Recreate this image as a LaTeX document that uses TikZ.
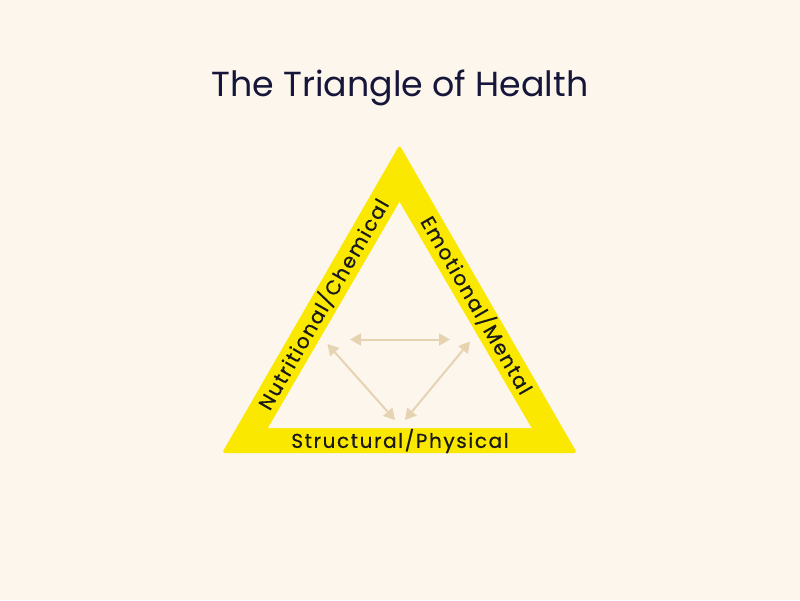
\documentclass[tikz,border=0pt]{standalone}
\usepackage{fontspec}
\setmainfont{Poppins}
\newfontfamily\sidefont[LetterSpace=8,FakeBold=0.6]{Poppins}
\usetikzlibrary{positioning, arrows.meta, calc}
\definecolor{TriBack}{HTML}{FCF6EC}
\definecolor{TriYellow}{HTML}{FAE800}
\definecolor{TriInk}{HTML}{15163A}
\definecolor{TriArrow}{HTML}{E6D3B2}
\tikzset{
    sidelabel/.style={
        font=\sidefont\fontsize{20}{22}\selectfont, text=black!90, inner sep=0pt
    },
    linkarrow/.style={
        {Triangle[length=11pt,width=12pt]}-{Triangle[length=11pt,width=12pt]},
        line width=2pt, TriArrow
    }
}

\begin{document}
\begin{tikzpicture}[x=1pt, y=-1pt]
        % canvas
        \fill[TriBack] (0,0) rectangle (800,600);
        \useasboundingbox (0,0) rectangle (800,600);

        \node[text=TriInk, font=\fontsize{34.8}{40}\selectfont] (title) at (400,88) {The Triangle of Health};

        % yellow frame
        \fill[TriYellow, rounded corners=3pt] (399.5,145) -- (577,453) -- (222,453) -- cycle;
        \fill[TriBack] (399.5,202) -- (531.5,428) -- (268,428) -- cycle;

        \node[sidelabel, rotate=60] (nutri) at (323,304) {Nutritional/Chemical};
        \node[sidelabel, rotate=-60] (emo) at (477,305) {Emotional/Mental};
        \node[sidelabel] (struct) at (400,441) {Structural/Physical};

        % links between the three sides
        \coordinate (topL) at (350,339.5);
        \coordinate (topR) at (450,339.5);
        \coordinate (leftUp) at (327.5,344);
        \coordinate (leftDown) at (395,420);
        \coordinate (rightUp) at (470,341.5);
        \coordinate (rightDown) at (405,420);
        \draw[linkarrow] (topL) -- (topR);
        \draw[linkarrow] (leftUp) -- (leftDown);
        \draw[linkarrow] (rightUp) -- (rightDown);
    \end{tikzpicture}
\end{document}
